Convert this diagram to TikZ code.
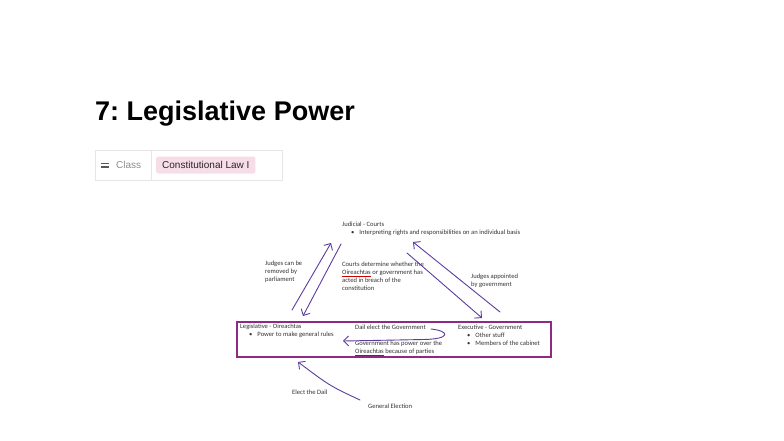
\documentclass[tikz,border=0pt]{standalone}
\usepackage{fontspec}
\setmainfont{Liberation Sans}
\newfontfamily\dfont{Carlito}
\usetikzlibrary{arrows.meta}
\frenchspacing
\definecolor{penpurple}{HTML}{5B3C9E}
\definecolor{boxpurple}{HTML}{8E2A86}
\definecolor{tagpink}{HTML}{F6DDE8}
\definecolor{propgray}{HTML}{E6E6E6}
\newcommand\redul[1]{\setbox0\hbox{#1}\rlap{\color{red!80!black}\rule[-1.2pt]{\wd0}{0.35pt}}#1}
\newcommand\bul[1]{\hspace*{9pt}\textbullet\hspace{5pt}#1}
\begin{document}
\begin{tikzpicture}[x=1pt,y=-1pt,
  dtext/.style={font=\dfont\fontsize{6.6}{8}\selectfont, text=black!80, inner sep=0pt, align=left, anchor=north west},
  pen/.style={draw=penpurple, line width=0.9pt, line cap=round, -{Straight Barb[length=5pt,width=10pt]}}
]
\useasboundingbox (0,0) rectangle (784,441);
% title
\node[anchor=base west, inner sep=0pt, font=\fontsize{27}{30}\selectfont\bfseries] (title) at (95,121) {7: Legislative Power};
% property row
\draw[propgray, line width=0.8pt] (95,150) rectangle (282,180);
\draw[propgray, line width=0.8pt] (151,150) -- (151,180);
\fill[black!65] (101,163.2) rectangle (109,164.2);
\fill[black!65] (101,165.5) rectangle (109,167.8);
\node[anchor=west, inner sep=0pt, font=\fontsize{10}{12}\selectfont, text=black!45] (class) at (116,165) {Class};
\node[anchor=west, fill=tagpink, rounded corners=2pt, inner xsep=6pt, minimum height=17pt, font=\fontsize{10}{12}\selectfont, text=black!85] (tag) at (156,165) {Constitutional Law I};
% diagram texts
\node[dtext] (jud) at (342,222) {Judicial - Courts\\\bul{Interpreting rights and responsibilities on an individual basis}};
\node[dtext] (rem) at (265,261) {Judges can be\\removed by\\parliament};
\node[dtext] (det) at (342,262) {Courts determine whether the\\\redul{Oireachtas} or government has\\acted in breach of the\\constitution};
\node[dtext] (app) at (471,274) {Judges appointed\\by government};
\draw[boxpurple, line width=1.3pt] (237,322) rectangle (551,357);
\node[dtext] (leg) at (240,324) {Legislative - Oireachtas\\\bul{Power to make general rules}};
\node[dtext] (dail) at (355,325) {Dail elect the Government};
\node[dtext] (pow) at (355,341) {Government has power over the\\\redul{Oireachtas} because of parties};
\node[dtext] (exe) at (458,325) {Executive - Government\\\bul{Other stuff}\\\bul{Members of the cabinet}};
\node[dtext] (eld) at (292,390) {Elect the Dail};
\node[dtext] (gen) at (368,404) {General Election};
% pen strokes
\coordinate (a1s) at (292,310); \coordinate (a1e) at (331,243);
\coordinate (a2s) at (341,244); \coordinate (a2e) at (303,316);
\coordinate (a3s) at (500,312); \coordinate (a3e) at (413,242);
\coordinate (a4s) at (407,253); \coordinate (a4e) at (482,318);
\coordinate (a5s) at (360,400); \coordinate (a5e) at (298,362);
\coordinate (h1) at (431,329); \coordinate (h2) at (424,339.5); \coordinate (h3) at (343,341);
\draw[pen] (a1s) -- (a1e);
\draw[pen] (a2s) -- (a2e);
\draw[pen] (a3s) -- (a3e);
\draw[pen] (a4s) -- (a4e);
\draw[pen] (a5s) .. controls (330,386) .. (a5e);
\draw[pen] (h1) .. controls (450,331) and (451,339) .. (h2) -- (h3);
\end{tikzpicture}
\end{document}
